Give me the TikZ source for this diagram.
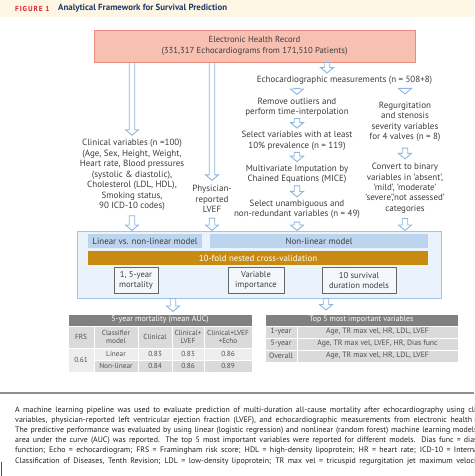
\documentclass[tikz,border=0pt]{standalone}
\usepackage{fontspec}
\setmainfont{PT Sans}
\usetikzlibrary{calc}
\definecolor{hdrband}{HTML}{FDF6E5}
\definecolor{figred}{HTML}{E1262D}
\definecolor{navy}{HTML}{1F3A68}
\definecolor{ehrfill}{HTML}{F8C0B1}
\definecolor{ehrdraw}{HTML}{E98C7F}
\definecolor{arrowblue}{HTML}{8DB5E0}
\definecolor{modelfill}{HTML}{EAF2FB}
\definecolor{modeldraw}{HTML}{A5C3E5}
\definecolor{barfill}{HTML}{BDD4EF}
\definecolor{cvfill}{HTML}{C88B12}
\definecolor{txt}{HTML}{3C3C3C}
\definecolor{tabtxt}{HTML}{505050}
\definecolor{tabhdr}{HTML}{808080}
\definecolor{tabdark}{HTML}{DADADA}
\definecolor{tablight}{HTML}{EDEDED}
\definecolor{seprule}{HTML}{8F8F8F}
\definecolor{captxt}{HTML}{231F20}
\definecolor{smallbox}{HTML}{F4F8FC}
\newcommand\harrow[2]{\draw[harrowsty] let \p1=#1, \p2=#2 in (\x1-2.75pt,\y1) -- (\x1-2.75pt,\y2+5.5pt) -- (\x1-6.5pt,\y2+5.5pt) -- (\x1,\y2) -- (\x1+6.5pt,\y2+5.5pt) -- (\x1+2.75pt,\y2+5.5pt) -- (\x1+2.75pt,\y1) -- cycle;}
\newcommand\tabcell[7]{\pgfmathsetmacro\tcW{#4-#2}\pgfmathsetmacro\tcH{#5-#3}\node[cellsty,fill=#6,minimum width=\tcW pt,minimum height=\tcH pt] (#1) at ({(#2+#4)/2},{(#3+#5)/2}) {#7};}
\begin{document}
\begin{tikzpicture}[x=1pt,y=-1pt,
  txtnode/.style={inner sep=0pt, align=center, text=txt, font=\fontsize{9.0}{10.45}\selectfont},
  cellsty/.style={draw=white, line width=1pt, inner sep=0pt, align=center, text=tabtxt, font=\fontsize{7.3}{8.6}\selectfont},
  harrowsty/.style={draw=arrowblue, fill=white, line width=0.9pt, line join=miter},
  barsty/.style={fill=barfill, inner sep=0pt, text=txt, font=\fontsize{8.9}{10}\selectfont},
  smallsty/.style={draw=black!60, line width=0.8pt, fill=smallbox, inner sep=0pt, align=center, text=txt, font=\fontsize{8.6}{10}\selectfont},
  capsty/.style={anchor=base west, inner sep=0pt, text=captxt, font=\fontsize{7.9}{9}\selectfont}]
\useasboundingbox (0,0) rectangle (474,476);
\clip (0,0) rectangle (474,476);
% header band
\fill[hdrband] (0,0) rectangle (474,17);
\node[anchor=west, inner sep=0pt, text=figred, font=\fontsize{7.3}{8}\selectfont\bfseries] (fig) at (15,8.5) {\addfontfeature{LetterSpace=12}FIGURE 1};
\node[anchor=west, inner sep=0pt, text=navy, font=\fontsize{8.9}{10}\selectfont\bfseries] (title) at (58,8.5) {Analytical Framework for Survival Prediction};
% text blocks
\node[txtnode] (echo) at (344.5,80.5) {Echocardiographic measurements (n = 508+8)};
\node[txtnode] (remove) at (297,107) {Remove outliers and\\perform time-interpolation};
\node[txtnode] (sel10) at (297,140.7) {Select variables with at least\\10\% prevalence (n = 119)};
\node[txtnode] (mice) at (297,174.3) {Multivariate Imputation by\\Chained Equations (MICE)};
\node[txtnode] (selun) at (297,209.5) {Select unambiguous and\\non-redundant variables (n = 49)};
\node[txtnode] (regurg) at (405,122) {Regurgitation\\and stenosis\\severity variables\\for 4 valves (n = 8)};
\node[txtnode] (convert) at (405,188.2) {Convert to binary\\variables in 'absent',\\'mild', 'moderate'\\'severe','not assessed'\\categories};
\node[txtnode] (clin) at (132,175) {Clinical variables (n =100)\\(Age, Sex, Height, Weight,\\Heart rate, Blood pressures\\(systolic \& diastolic),\\Cholesterol (LDL, HDL),\\Smoking status,\\90 ICD-10 codes)};
\node[txtnode] (lvef) at (212,199.2) {Physician-\\reported\\LVEF};
% EHR box and long arrows
\harrow{(132,62)}{($(clin.north)+(0,-4)$)}
\harrow{(212,62)}{($(lvef.north)+(0,-5)$)}
\node[draw=ehrdraw, line width=0.9pt, fill=ehrfill, minimum width=321pt, minimum height=32pt, inner sep=0pt, align=center, text=txt, font=\fontsize{8.7}{11.5}\selectfont] (ehr) at (254.5,46) {Electronic Health Record\\(331,317 Echocardiograms from 171,510 Patients)};
% model box
\node[draw=modeldraw, line width=1pt, fill=modelfill, minimum width=364pt, minimum height=67pt, inner sep=0pt] (model) at (259,264.5) {};
\node[barsty, minimum width=114pt, minimum height=14pt] (lin) at (145,241) {Linear vs. non-linear model};
\node[barsty, minimum width=218pt, minimum height=14pt] (nonlin) at (319,241) {Non-linear model};
\node[fill=cvfill, inner sep=0pt, text=white, font=\fontsize{8.9}{10}\selectfont, minimum width=340pt, minimum height=14pt] (cv) at (258,258) {10-fold nested cross-validation};
\node[smallsty, minimum width=44pt, minimum height=26pt] (mort) at (136,280) {1, 5-year\\mortality};
\node[smallsty, minimum width=56pt, minimum height=26pt] (vimp) at (256,280) {Variable\\importance};
\node[smallsty, minimum width=74pt, minimum height=26pt] (surv) at (359,280) {10 survival\\duration models};
% short arrows
\harrow{($(ehr.south)+(72.5,0)$)}{($(echo.north)+(0,-3)$)}
\harrow{($(echo.south -| remove.north)+(0,3.5)$)}{($(remove.north)+(0,-3)$)}
\harrow{($(echo.south -| regurg.north)+(0,3.5)$)}{($(regurg.north)+(0,-8)$)}
\harrow{($(remove.south)+(0,2)$)}{($(sel10.north)+(0,-3)$)}
\harrow{($(sel10.south)+(0,2)$)}{($(mice.north)+(0,-3)$)}
\harrow{($(mice.south)+(0,2)$)}{($(selun.north)+(0,-3)$)}
\harrow{($(selun.south)+(0,3)$)}{(selun.south |- model.north)}
\harrow{($(regurg.south)+(0,6)$)}{($(convert.north)+(0,-4)$)}
\harrow{($(convert.south)+(0,5)$)}{(convert.south |- model.north)}
\harrow{($(clin.south)+(0,5)$)}{(clin.south |- model.north)}
\harrow{($(lvef.south)+(0,5)$)}{(lvef.south |- model.north)}
% tables
\tabcell{ltH}{68}{314}{252}{326}{tabhdr}{\textcolor{white}{\fontsize{8.0}{9}\selectfont 5-year mortality (mean AUC)}}
\tabcell{lFRS}{68}{326}{94}{348}{tabdark}{FRS}
\tabcell{lCM}{94}{326}{138}{348}{tabdark}{Classifier\\model}
\tabcell{lCl}{138}{326}{172}{348}{tabdark}{Clinical}
\tabcell{lCL}{172}{326}{204}{348}{tabdark}{Clinical+\\LVEF}
\tabcell{lCLE}{204}{326}{252}{348}{tabdark}{Clinical+LVEF\\+Echo}
\tabcell{lFv}{68}{348}{94}{372}{tablight}{0.61}
\tabcell{lLin}{94}{348}{138}{360}{tablight}{Linear}
\tabcell{lLa}{138}{348}{172}{360}{tablight}{0.83}
\tabcell{lLb}{172}{348}{204}{360}{tablight}{0.83}
\tabcell{lLc}{204}{348}{252}{360}{tablight}{0.86}
\tabcell{lNon}{94}{360}{138}{372}{tabdark}{Non-linear}
\tabcell{lNa}{138}{360}{172}{372}{tabdark}{0.84}
\tabcell{lNb}{172}{360}{204}{372}{tabdark}{0.86}
\tabcell{lNc}{204}{360}{252}{372}{tabdark}{0.89}
\tabcell{rtH}{265}{314}{458}{326}{tabhdr}{\textcolor{white}{\fontsize{7.8}{9}\selectfont Top 5 most important variables}}
\tabcell{r1a}{265}{326}{297}{338}{tabdark}{\fontsize{7.7}{8.6}\selectfont 1-year}
\tabcell{r1b}{297}{326}{458}{338}{tabdark}{\fontsize{7.7}{8.6}\selectfont Age, TR max vel, HR, LDL, LVEF}
\tabcell{r5a}{265}{338}{297}{350}{tabdark}{\fontsize{7.7}{8.6}\selectfont 5-year}
\tabcell{r5b}{297}{338}{458}{350}{tabdark}{\fontsize{7.7}{8.6}\selectfont Age, TR max vel, LVEF, HR, Dias func}
\tabcell{roa}{265}{350}{297}{362}{tabdark}{\fontsize{7.7}{8.6}\selectfont Overall}
\tabcell{rob}{297}{350}{458}{362}{tabdark}{\fontsize{7.7}{8.6}\selectfont Age, TR max vel, HR, LDL, LVEF}
% arrows to tables
\harrow{($(model.south)+(-86,0)$)}{($(lCLE.north)+(0,-14)$)}
\harrow{($(model.south)+(67,0)$)}{($(rtH.north)+(0,-3.5)$)}
% separator and caption
\draw[seprule, line width=1.4pt] (0,393) -- (474,393);
\draw[black!70, line width=0.8pt] (1,462) -- (1,476);
\node[capsty] (c1) at (15,412) {\makebox[459pt][s]{A machine learning pipeline was used to evaluate prediction of multi-duration all-cause mortality after echocardiography using cl}\rlap{inical}};
\node[capsty] (c2) at (15,422.2) {\makebox[457pt][s]{variables, physician-reported left ventricular ejection fraction (LVEF), and echocardiographic measurements from electronic health}\rlap{ records.}};
\node[capsty] (c3) at (15,432.4) {\makebox[459pt][s]{The predictive performance was evaluated by using linear (logistic regression) and nonlinear (random forest) machine learning model}\rlap{s, and the}};
\node[capsty] (c4) at (15,442.6) {\makebox[459pt][s]{area under the curve (AUC) was reported. The top 5 most important variables were reported for different models. Dias func = dia}\rlap{stolic}};
\node[capsty] (c5) at (15,452.8) {\makebox[459pt][s]{function; Echo = echocardiogram; FRS = Framingham risk score; HDL = high-density lipoprotein; HR = heart rate; ICD-10 = Intern}\rlap{ational}};
\node[capsty] (c6) at (15,463) {\makebox[459pt][s]{Classification of Diseases, Tenth Revision; LDL = low-density lipoprotein; TR max vel = tricuspid regurgitation jet maximum veloc}\rlap{ity.}};
\end{tikzpicture}
\end{document}
